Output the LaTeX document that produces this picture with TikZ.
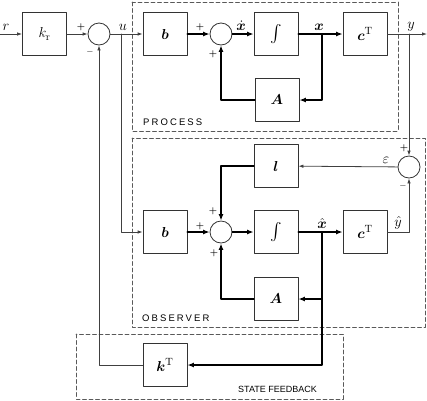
\documentclass[tikz,border=0pt]{standalone}
\usepackage{amsmath}
\usepackage{bm}
\usepackage{fontspec}
\newfontfamily\tagfont{Liberation Sans}
\newfontfamily\spacedtagfont[LetterSpace=22]{Liberation Sans}
\usetikzlibrary{arrows.meta}

\begin{document}
\begin{tikzpicture}[line cap=round,line join=round,x=1pt,y=-1pt]
  \tikzset{blk/.style={draw=black!80,line width=0.8pt,minimum width=44pt,
      minimum height=43pt,inner sep=0pt,font=\fontsize{15}{17}\selectfont},
    sumpt/.style={draw=black!80,line width=0.8pt,circle,minimum size=22pt,inner sep=0pt},
    sig/.style={draw=black!75,line width=0.8pt,-{Latex[length=5pt,width=3.5pt]}},
    bus/.style={line width=1.8pt,-{Latex[length=6.5pt,width=5pt]}},
    sgn/.style={font=\bfseries\small,inner sep=0pt},
    lbl/.style={font=\fontsize{14}{16}\selectfont,inner sep=0pt,anchor=south},
    grp/.style={draw=black!65,dashed,line width=0.7pt,dash pattern=on 4pt off 2.5pt}}
  \useasboundingbox (0,0) rectangle (427,400);
  % groups
  \draw[grp] (132,2) rectangle (398,131);
  \draw[grp] (132,138) rectangle (425,327);
  \draw[grp] (76,334) rectangle (343,399);
  \node[anchor=west,inner sep=0pt,font=\fontsize{9.5}{11}\spacedtagfont] (tproc) at (143,122) {PROCESS};
  \node[anchor=west,inner sep=0pt,font=\fontsize{9.5}{11}\spacedtagfont] (tobs) at (142,318) {OBSERVER};
  \node[anchor=west,inner sep=0pt,font=\fontsize{9}{11}\tagfont] (tfb) at (238,389) {STATE FEEDBACK};
  % blocks
  \node[blk] (kr) at (44.5,34) {$k_{\mathrm r}$};
  \node[sumpt] (s1) at (99,34) {};
  \node[blk] (bp) at (165,34) {$\bm b$};
  \node[sumpt] (s2) at (221,34) {};
  \node[blk,font=\fontsize{16}{18}\selectfont] (ip) at (276,34) {$\int$};
  \node[blk] (cp) at (365,34) {$\bm c^{\mathrm T}$};
  \node[blk] (ap) at (277,100) {$\bm A$};
  \node[blk] (lo) at (276,166) {$\bm l$};
  \node[sumpt] (s3) at (409,167) {};
  \node[blk] (bo) at (165,232) {$\bm b$};
  \node[sumpt] (s4) at (221,232) {};
  \node[blk,font=\fontsize{16}{18}\selectfont] (io) at (276,232) {$\int$};
  \node[blk] (co) at (365,232) {$\bm c^{\mathrm T}$};
  \node[blk] (ao) at (276,299) {$\bm A$};
  \node[blk] (kt) at (165,365) {$\bm k^{\mathrm T}$};
  % branch points
  \coordinate (rin) at (0,34);
  \coordinate (yout) at (427,34);
  \coordinate (ub) at (121,34);
  \coordinate (xb) at (322,34);
  \coordinate (yb) at (409,34);
  \coordinate (xh) at (322,232);
  % process
  \draw[sig] (rin) -- (kr);
  \draw[sig] (kr) -- (s1);
  \draw[sig] (s1) -- (bp);
  \draw[sig] (ub) |- (bo.west);
  \draw[bus] (bp) -- (s2);
  \draw[bus] (s2) -- (ip);
  \draw[bus] (ip) -- (cp);
  \draw[sig] (cp) -- (yout);
  \draw[bus] (xb) |- (ap.east);
  \draw[bus] (ap.west) -| (s2.south);
  \draw[sig] (yb) -- (s3.north);
  % observer
  \draw[sig] (s3) -- (lo);
  \draw[bus] (lo.west) -| (s4.north);
  \draw[bus] (bo) -- (s4);
  \draw[bus] (s4) -- (io);
  \draw[bus] (io) -- (co);
  \draw[sig] (co.east) -| (s3.south);
  \draw[bus] (xh) |- (ao.east);
  \draw[bus] (ao.west) -| (s4.south);
  % state feedback
  \draw[bus] (xh) |- (kt.east);
  \draw[sig] (kt.west) -| (s1.south);
  % signs
  \node[sgn] (p1) at (81,27) {+};
  \node[sgn] (m1) at (90,52) {$-$};
  \node[sgn] (p2) at (200,27) {+};
  \node[sgn] (p3) at (213,54) {+};
  \node[sgn] (p4) at (213,211) {+};
  \node[sgn] (p5) at (200,226) {+};
  \node[sgn] (p6) at (214,253) {+};
  \node[sgn] (p7) at (404,148) {+};
  \node[sgn] (m2) at (403,186) {$-$};
  % signal labels
  \node[lbl] (lr) at (6,31) {$r$};
  \node[lbl] (lu) at (123,31) {$u$};
  \node[lbl] (lxd) at (241,31) {$\dot{\bm x}$};
  \node[lbl] (lx) at (319,31) {$\bm x$};
  \node[lbl] (ly) at (411,31) {$y$};
  \node[lbl] (le) at (386,164) {$\varepsilon$};
  \node[lbl] (lxh) at (322,229) {$\hat{\bm x}$};
  \node[lbl] (lyh) at (398,229) {$\hat y$};
\end{tikzpicture}
\end{document}
